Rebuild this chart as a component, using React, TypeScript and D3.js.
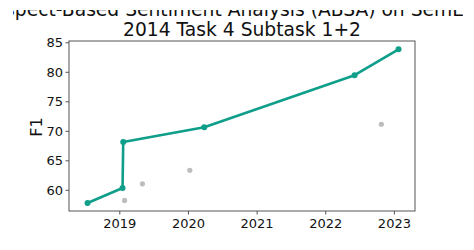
import React from "react";
import * as d3 from "d3";

const bestX = [2018.53, 2019.04, 2019.05, 2020.23, 2022.42, 2023.06];
const bestY = [57.85, 60.4, 68.2, 70.7, 79.5, 83.9];
const otherX = [2019.07, 2019.33, 2020.02, 2022.81];
const otherY = [58.3, 61.1, 63.4, 71.2];
const xTicks = [2019, 2020, 2021, 2022, 2023];
const yTicks = [60, 65, 70, 75, 80, 85];
const titleLines = ["Aspect-Based Sentiment Analysis (ABSA) on SemEval", "2014 Task 4 Subtask 1+2"];

const W = 474, H = 250;
const L = 69, R = 415, T = 41, B = 211;
const font = "DejaVu Sans, sans-serif";
const teal = "#0e9e8a";

export default function App() {
  const x = d3.scaleLinear().domain([2018.26, 2023.3]).range([L, R]);
  const y = d3.scaleLinear().domain([56.5, 85.3]).range([B, T]);
  const best = bestX.map((v, i) => [v, bestY[i]] as [number, number]);
  const line = d3.line<[number, number]>().x(d => x(d[0])).y(d => y(d[1]));
  const cx = (L + R) / 2;
  return (
    <svg width={W} height={H} style={{ position: "absolute", left: 0, top: 0, background: "#fff" }} fontFamily={font}>
      <defs>
        <clipPath id="titleClip">
          <rect x={13} y={10} width={450} height={10} />
        </clipPath>
      </defs>
      <rect x={0} y={0} width={W} height={H} fill="#fff" />
      <g clipPath="url(#titleClip)">
        <text x={cx} y={15.5} textAnchor="middle" fontSize={18.7} fill="#111">{titleLines[0]}</text>
      </g>
      <text x={cx} y={36} textAnchor="middle" fontSize={18.7} fill="#111">{titleLines[1]}</text>
      {otherX.map((v, i) => (
        <circle key={i} cx={x(v)} cy={y(otherY[i])} r={2.6} fill="#bdbdbd" />
      ))}
      <path d={line(best) || ""} fill="none" stroke={teal} strokeWidth={2.6} strokeLinejoin="round" />
      {best.map((d, i) => (
        <circle key={i} cx={x(d[0])} cy={y(d[1])} r={3} fill={teal} />
      ))}
      <rect x={L} y={T} width={R - L} height={B - T} fill="none" stroke="#555" strokeWidth={1} />
      {xTicks.map(t => (
        <g key={t} transform={`translate(${x(t)},${B})`}>
          <line y1={0} y2={3.5} stroke="#555" />
          <text y={17} textAnchor="middle" fontSize={13} fill="#111">{t}</text>
        </g>
      ))}
      {yTicks.map(t => (
        <g key={t} transform={`translate(${L},${y(t)})`}>
          <line x1={0} x2={-3.5} stroke="#555" />
          <text x={-6} dy="0.35em" textAnchor="end" fontSize={13} fill="#111">{t}</text>
        </g>
      ))}
      <text transform={`translate(42,${(T + B) / 2 + 1}) rotate(-90)`} textAnchor="middle" fontSize={16} fill="#111">F1</text>
    </svg>
  );
}
